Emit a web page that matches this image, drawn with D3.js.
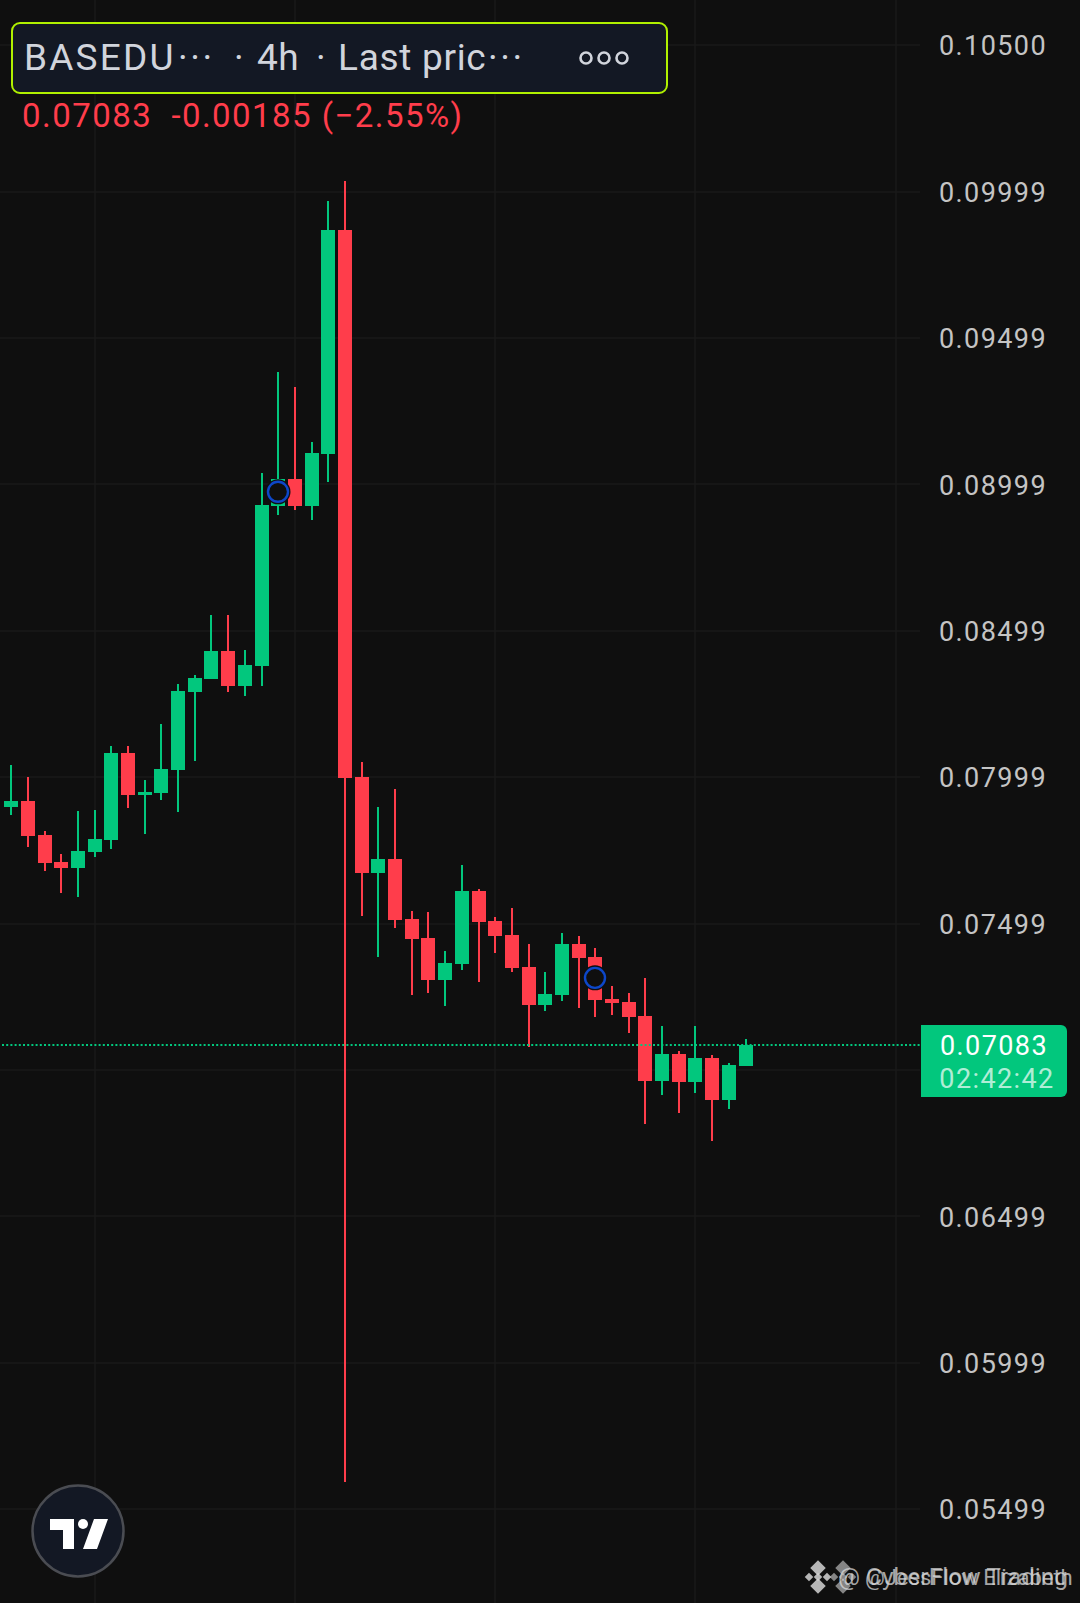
<!DOCTYPE html>
<html>
<head>
<meta charset="utf-8">
<script src="https://cdn.jsdelivr.net/npm/d3@7"></script>
<style>
  html, body { margin: 0; padding: 0; background: #0f0f0f; }
  svg { display: block; font-family: Roboto, sans-serif; }
</style>
</head>
<body>
<div id="chart"></div>
<script>
// candles, 4h bars, left to right
const opens  = [0.07898,0.07918,0.07802,0.07710,0.07689,0.07744,0.07785,0.08082,0.07939,0.07945,0.08024,0.08290,0.08335,0.08430,0.08311,0.08379,0.08926,0.09018,0.08926,0.09103,0.09868,0.08000,0.07672,0.07720,0.07515,0.07450,0.07307,0.07361,0.07611,0.07508,0.07460,0.07351,0.07221,0.07255,0.07430,0.07385,0.07242,0.07232,0.07184,0.06962,0.07054,0.06958,0.07040,0.06897,0.07013];
const highs  = [0.08041,0.08000,0.07816,0.07737,0.07884,0.07887,0.08106,0.08106,0.07990,0.08181,0.08318,0.08348,0.08553,0.08553,0.08434,0.09038,0.09383,0.09332,0.09144,0.09967,0.10036,0.08051,0.07898,0.07959,0.07542,0.07539,0.07406,0.07699,0.07617,0.07522,0.07553,0.07430,0.07334,0.07467,0.07457,0.07416,0.07286,0.07262,0.07314,0.07150,0.07064,0.07150,0.07051,0.07023,0.07105];
const lows   = [0.07870,0.07761,0.07679,0.07604,0.07590,0.07727,0.07754,0.07894,0.07805,0.07921,0.07880,0.08055,0.08335,0.08290,0.08277,0.08311,0.08895,0.08912,0.08878,0.09008,0.05592,0.07525,0.07385,0.07484,0.07255,0.07262,0.07218,0.07341,0.07300,0.07399,0.07334,0.07078,0.07201,0.07235,0.07211,0.07180,0.07187,0.07126,0.06815,0.06914,0.06852,0.06921,0.06757,0.06866,0.07013];
const closes = [0.07918,0.07798,0.07706,0.07689,0.07747,0.07788,0.08082,0.07939,0.07949,0.08027,0.08294,0.08338,0.08430,0.08311,0.08383,0.08929,0.09018,0.08926,0.09107,0.09868,0.07997,0.07672,0.07720,0.07512,0.07447,0.07307,0.07365,0.07611,0.07505,0.07457,0.07348,0.07221,0.07259,0.07430,0.07382,0.07238,0.07228,0.07180,0.06962,0.07054,0.06958,0.07040,0.06897,0.07016,0.07083];

const priceTicks = [0.105,0.09999,0.09499,0.08999,0.08499,0.07999,0.07499,0.06999,0.06499,0.05999,0.05499];
const hiddenTick = 0.06999;   // its label sits behind the last price tag
const gridBars = [5,17,29,41,53];   // one vertical line every 12 bars
const markerBars = [16,35];
const markerPrices = [0.08974,0.07314];
const lastPrice = 0.07083;

const width = 1080, height = 1603;
const plotRight = 920;

const UP = "#02c77d", DOWN = "#ff3d4b", BG = "#0f0f0f", GRID = "#1a1a1a";

const x = d3.scaleLinear().domain([0,53]).range([11.2,895.77]);
const y = d3.scaleLinear().domain([0.055,0.105]).range([1509,45]);

const svg = d3.select("#chart").append("svg")
    .attr("width", width)
    .attr("height", height);

svg.append("rect").attr("width", width).attr("height", height).attr("fill", BG);

// grid
svg.append("g").selectAll("line").data(priceTicks).enter().append("line")
    .attr("x1", 0).attr("x2", plotRight)
    .attr("y1", d => Math.round(y(d))).attr("y2", d => Math.round(y(d)))
    .attr("stroke", GRID).attr("stroke-width", 1.5);

svg.append("g").selectAll("line").data(gridBars).enter().append("line")
    .attr("x1", d => Math.round(x(d))).attr("x2", d => Math.round(x(d)))
    .attr("y1", 0).attr("y2", height)
    .attr("stroke", GRID).attr("stroke-width", 1.5);

// price axis
const axis = d3.axisRight(y)
    .tickValues(priceTicks.filter(d => d !== hiddenTick))
    .tickFormat(d3.format(".5f"))
    .tickSize(0)
    .tickPadding(0);

const axisG = svg.append("g")
    .attr("transform", "translate(939,1)")
    .call(axis);
axisG.select(".domain").remove();
axisG.selectAll("text")
    .attr("fill", "#c4c4c4")
    .style("font-family", "Roboto, sans-serif")
    .style("font-size", "27px")
    .style("letter-spacing", "1.4px");

// candles
const bars = d3.range(opens.length);
const color = i => closes[i] >= opens[i] ? UP : DOWN;

const candles = svg.append("g").attr("shape-rendering", "crispEdges");

candles.selectAll("rect.wick").data(bars).enter().append("rect")
    .attr("class", "wick")
    .attr("x", i => Math.round(x(i)) - 1)
    .attr("width", 2)
    .attr("y", i => y(highs[i]))
    .attr("height", i => y(lows[i]) - y(highs[i]))
    .attr("fill", color);

candles.selectAll("rect.body").data(bars).enter().append("rect")
    .attr("class", "body")
    .attr("x", i => Math.round(x(i)) - 7)
    .attr("width", 14)
    .attr("y", i => y(Math.max(opens[i], closes[i])))
    .attr("height", i => Math.abs(y(opens[i]) - y(closes[i])))
    .attr("fill", color);

// blue circle markers, with a dark halo
const markers = svg.append("g");
markers.selectAll("circle.halo").data(markerBars).enter().append("circle")
    .attr("class", "halo")
    .attr("cx", d => Math.round(x(d)))
    .attr("cy", (d, i) => y(markerPrices[i]))
    .attr("r", 12.5)
    .attr("fill", BG);
markers.selectAll("circle.ring").data(markerBars).enter().append("circle")
    .attr("class", "ring")
    .attr("cx", d => Math.round(x(d)))
    .attr("cy", (d, i) => y(markerPrices[i]))
    .attr("r", 10)
    .attr("fill", "none")
    .attr("stroke", "#0d47c9")
    .attr("stroke-width", 2.4);

// last price line + label
svg.append("line")
    .attr("x1", 2).attr("x2", 921)
    .attr("y1", Math.round(y(lastPrice))).attr("y2", Math.round(y(lastPrice)))
    .attr("stroke", UP).attr("stroke-width", 2)
    .attr("stroke-dasharray", "2,2.2");

svg.append("path")
    .attr("d", "M921,1025H1061a6,6 0 0 1 6,6V1091a6,6 0 0 1 -6,6H921Z")
    .attr("fill", UP);

svg.append("text")
    .attr("x", 994).attr("y", 1055)
    .attr("text-anchor", "middle")
    .attr("fill", "#ffffff")
    .style("font-size", "27px")
    .style("letter-spacing", "1.4px")
    .text(d3.format(".5f")(lastPrice));

svg.append("text")
    .attr("x", 997).attr("y", 1088)
    .attr("text-anchor", "middle")
    .attr("fill", "#ffffff").attr("fill-opacity", 0.7)
    .style("font-size", "27px")
    .style("letter-spacing", "1.4px")
    .text("02:42:42");

// legend box
svg.append("rect")
    .attr("x", 12).attr("y", 23)
    .attr("width", 655).attr("height", 70)
    .attr("rx", 8)
    .attr("fill", "#131824")
    .attr("stroke", "#b0f000")
    .attr("stroke-width", 2);

const legend = [
    { t: "BASEDU", x: 24, ls: 2.2 },
    { t: "\u00b7\u00b7\u00b7", x: 178, ls: 2.6 },
    { t: "\u00b7", x: 234, ls: 0 },
    { t: "4h", x: 257, ls: 0.5 },
    { t: "\u00b7", x: 316, ls: 0 },
    { t: "Last pric", x: 338, ls: 0.7 },
    { t: "\u00b7\u00b7\u00b7", x: 488, ls: 2.6 }
];
svg.append("g").selectAll("text").data(legend).enter().append("text")
    .attr("x", d => d.x).attr("y", 70)
    .attr("fill", "#d1d4dc")
    .style("font-size", "37px")
    .style("letter-spacing", d => d.ls + "px")
    .text(d => d.t);

svg.append("g").selectAll("circle").data([586,604,622]).enter().append("circle")
    .attr("cx", d => d).attr("cy", 58).attr("r", 5.5)
    .attr("fill", "none")
    .attr("stroke", "#d1d4dc")
    .attr("stroke-width", 2.6);

svg.append("text")
    .attr("x", 22).attr("y", 127)
    .attr("fill", DOWN)
    .attr("xml:space", "preserve")
    .style("white-space", "pre")
    .style("font-size", "33px")
    .style("letter-spacing", "1.45px")
    .text("0.07083  -0.00185 (\u22122.55%)");

// TradingView badge
const badge = svg.append("g").attr("transform", "translate(78,1531)");
badge.append("circle").attr("r", 45.5)
    .attr("fill", "#131824").attr("stroke", "#4a4c52").attr("stroke-width", 2.5);
badge.append("path").attr("fill", "#ffffff")
    .attr("d", "M-28,-12H-4V18H-15V-1H-28ZM16,-12H30L19,18H5Z");
badge.append("circle").attr("cx", 5).attr("cy", -7).attr("r", 5).attr("fill", "#ffffff");

// watermark, two stacked over each other
function binanceIcon(cx, cy, op) {
    const g = svg.append("g").attr("transform", `translate(${cx},${cy})`).attr("fill", "#d4d4d4").attr("fill-opacity", op);
    [[0,-9,5.5],[0,9,5.5],[-9,0,3],[9,0,3],[0,0,3]].forEach(s => {
        g.append("rect")
            .attr("x", s[0] - s[2]).attr("y", s[1] - s[2])
            .attr("width", s[2] * 2).attr("height", s[2] * 2)
            .attr("transform", `rotate(45 ${s[0]} ${s[1]})`);
    });
}
binanceIcon(818, 1577, 0.85);
binanceIcon(843, 1577, 0.6);

svg.append("text")
    .attr("x", 838).attr("y", 1585)
    .attr("fill", "#d8d8d8").attr("fill-opacity", 0.75)
    .style("font-size", "24.5px")
    .text("@ CyberFlow Trading");

svg.append("text")
    .attr("x", 865).attr("y", 1585)
    .attr("fill", "#d8d8d8").attr("fill-opacity", 0.75)
    .style("font-size", "22px")
    .text("@JessFlow Elizabeth");
</script>
</body>
</html>
